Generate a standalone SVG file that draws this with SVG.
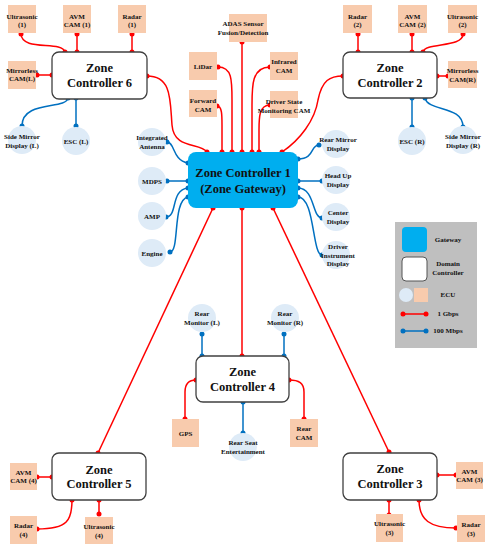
<svg xmlns="http://www.w3.org/2000/svg" width="491" height="550" viewBox="0 0 491 550">
<defs>
<marker id="rd" markerUnits="userSpaceOnUse" markerWidth="6" markerHeight="6" refX="3" refY="3"><circle cx="3" cy="3" r="2.5" fill="#ff0000"/></marker>
<marker id="bd" markerUnits="userSpaceOnUse" markerWidth="6" markerHeight="6" refX="3" refY="3"><circle cx="3" cy="3" r="2.5" fill="#0070c0"/></marker>
<style>
.ecu{fill:#f8cbad}
.cir{fill:#deebf7}
.zc{fill:#fff;stroke:#404040;stroke-width:1.3}
.gw{fill:#00aeef}
text{font-family:"Liberation Serif","Times New Roman",serif;font-weight:bold;text-anchor:middle;fill:#111}
.s{font-size:7px}
.t{font-size:12.5px}
.r{fill:none;stroke:#ff0000;stroke-width:1.5;marker-start:url(#rd);marker-end:url(#rd)}
.b{fill:none;stroke:#0070c0;stroke-width:1.5;marker-start:url(#bd);marker-end:url(#bd)}
</style>
</defs>
<rect width="491" height="550" fill="#fff"/>

<g id="legend">
<rect x="395" y="222" width="82" height="126" fill="#bfbfbf"/>
<rect x="402" y="227" width="25" height="25" rx="4" class="gw"/>
<rect x="402" y="257" width="25" height="24" rx="4" fill="#fff" stroke="#555" stroke-width="1"/>
<circle cx="406" cy="295" r="7" class="cir"/>
<rect x="414" y="288" width="14" height="14" class="ecu"/>
<line x1="403" y1="314" x2="426" y2="314" class="r"/>
<line x1="403" y1="331" x2="426" y2="331" class="b"/>
<text class="s" x="448" y="242">Gateway</text>
<text class="s" x="448" y="266">Domain</text>
<text class="s" x="448" y="275">Controller</text>
<text class="s" x="448" y="297">ECU</text>
<text class="s" x="448" y="316">1 Gbps</text>
<text class="s" x="448" y="333">100 Mbps</text>
</g>

<g id="connectors">
<path class="r" d="M21,34 C22,52 62,40 65,52"/>
<path class="r" d="M77,34 V52"/>
<path class="r" d="M132,34 V52"/>
<path class="r" d="M37,75 H52"/>
<path class="r" d="M147,76 C172,76 170,100 172,125 C174,150 200,142 207,152"/>
<path class="r" d="M242,42 V152"/>
<path class="r" d="M218,67 C232,67 232,80 232,100 V152"/>
<path class="r" d="M217,106 C222,106 222,115 222,125 V152"/>
<path class="r" d="M270,67 C252,67 252,85 252,105 V152"/>
<path class="r" d="M270,105 C259,105 259,118 259,130 V152"/>
<path class="r" d="M282,152 C300,140 315,120 318,100 C322,80 330,76 343,76"/>
<path class="r" d="M358,34 V52"/>
<path class="r" d="M412,34 V52"/>
<path class="r" d="M463,34 C463,48 425,42 423,52"/>
<path class="r" d="M437,76 H448"/>
<path class="r" d="M213,208 L98,453"/>
<path class="r" d="M242,208 V356"/>
<path class="r" d="M273,208 L389,452"/>
<path class="r" d="M185,419 V392 C185,383 190,380 196,380"/>
<path class="r" d="M304,419 V392 C304,383 299,380 289,380"/>
<path class="r" d="M37,477 H52"/>
<path class="r" d="M37,529 C68,529 72,520 72,500"/>
<path class="r" d="M99,500 V514"/>
<path class="r" d="M437,475 H456"/>
<path class="r" d="M389,500 V515"/>
<path class="r" d="M419,500 C419,520 430,528 456,528"/>

<path class="b" d="M68,98 C66,110 22,100 22,126"/>
<path class="b" d="M76,98 V126"/>
<path class="b" d="M167,142 C175,142 172,160 188,163"/>
<path class="b" d="M167,181 H188"/>
<path class="b" d="M166,217 C178,217 170,190 188,188"/>
<path class="b" d="M170,252 C180,252 172,200 188,197"/>
<path class="b" d="M298,159 C315,159 310,145 319,145"/>
<path class="b" d="M298,181 H322"/>
<path class="b" d="M298,188 C315,188 312,218 322,218"/>
<path class="b" d="M298,197 C315,197 312,255 322,255"/>
<path class="b" d="M412,98 V127"/>
<path class="b" d="M425,98 C428,112 463,105 463,127"/>
<path class="b" d="M202,334 V356"/>
<path class="b" d="M284,334 V356"/>
<path class="b" d="M243,402 V433"/>
</g>

<g id="zc6"><rect x="52" y="52" width="95" height="47" rx="7" class="zc"/><text class="t" x="99.5" y="72">Zone</text><text class="t" x="99.5" y="87">Controller 6</text></g>
<g id="zc2"><rect x="343" y="52" width="94" height="46" rx="7" class="zc"/><text class="t" x="390" y="72">Zone</text><text class="t" x="390" y="87">Controller 2</text></g>
<g id="zc1"><rect x="188" y="152" width="110" height="56" rx="8" class="gw"/><text class="t" x="243" y="177">Zone Controller 1</text><text class="t" x="243" y="193">(Zone Gateway)</text></g>
<g id="zc4"><rect x="196" y="356" width="93" height="46" rx="7" class="zc"/><text class="t" x="242.5" y="376">Zone</text><text class="t" x="242.5" y="391">Controller 4</text></g>
<g id="zc5"><rect x="52" y="453" width="94" height="47" rx="7" class="zc"/><text class="t" x="99" y="474">Zone</text><text class="t" x="99" y="488">Controller 5</text></g>
<g id="zc3"><rect x="343" y="453" width="94" height="47" rx="7" class="zc"/><text class="t" x="390" y="473">Zone</text><text class="t" x="390" y="488">Controller 3</text></g>

<g id="ultrasonic1"><rect x="8" y="5" width="28" height="28" class="ecu"/><text class="s" x="22" y="19">Ultrasonic</text><text class="s" x="22" y="27">(1)</text></g>
<g id="avm1"><rect x="63" y="5" width="28" height="28" class="ecu"/><text class="s" x="77" y="19">AVM</text><text class="s" x="77" y="27">CAM (1)</text></g>
<g id="radar1"><rect x="118" y="5" width="28" height="28" class="ecu"/><text class="s" x="132" y="19">Radar</text><text class="s" x="132" y="27">(1)</text></g>
<g id="mirrorL"><rect x="8" y="61" width="28" height="28" class="ecu"/><text class="s" x="22" y="73">Mirrorless</text><text class="s" x="22" y="81">CAM(L)</text></g>
<g id="adas"><rect x="229" y="14" width="38" height="28" class="ecu"/><text class="s" x="243" y="26">ADAS Sensor</text><text class="s" x="243" y="35">Fusion/Detection</text></g>
<g id="lidar"><rect x="189" y="52" width="28" height="28" class="ecu"/><text class="s" x="203" y="69">LiDar</text></g>
<g id="forward"><rect x="189" y="90" width="28" height="27" class="ecu"/><text class="s" x="203" y="103">Forward</text><text class="s" x="203" y="112">CAM</text></g>
<g id="infrared"><rect x="270" y="52" width="28" height="28" class="ecu"/><text class="s" x="284" y="64">Infrared</text><text class="s" x="284" y="73">CAM</text></g>
<g id="dsm"><rect x="270" y="91" width="28" height="27" class="ecu"/><text class="s" x="284" y="104">Driver State</text><text class="s" x="284" y="113">Monitoring CAM</text></g>
<g id="radar2"><rect x="343" y="5" width="29" height="28" class="ecu"/><text class="s" x="357.5" y="19">Radar</text><text class="s" x="357.5" y="27">(2)</text></g>
<g id="avm2"><rect x="398" y="5" width="29" height="28" class="ecu"/><text class="s" x="412.5" y="19">AVM</text><text class="s" x="412.5" y="27">CAM (2)</text></g>
<g id="ultrasonic2"><rect x="448" y="5" width="29" height="28" class="ecu"/><text class="s" x="462.5" y="19">Ultrasonic</text><text class="s" x="462.5" y="27">(2)</text></g>
<g id="mirrorR"><rect x="448" y="61" width="29" height="27" class="ecu"/><text class="s" x="462.5" y="73">Mirrorless</text><text class="s" x="462.5" y="82">CAM(R)</text></g>
<g id="gps"><rect x="172" y="419" width="27" height="28" class="ecu"/><text class="s" x="185.5" y="436">GPS</text></g>
<g id="rearcam"><rect x="290" y="419" width="28" height="28" class="ecu"/><text class="s" x="304" y="431">Rear</text><text class="s" x="304" y="440">CAM</text></g>
<g id="avm4"><rect x="10" y="463" width="27" height="27" class="ecu"/><text class="s" x="23.5" y="475">AVM</text><text class="s" x="23.5" y="483">CAM (4)</text></g>
<g id="radar4"><rect x="10" y="516" width="27" height="28" class="ecu"/><text class="s" x="23.5" y="528">Radar</text><text class="s" x="23.5" y="537">(4)</text></g>
<g id="ultrasonic4"><rect x="85" y="517" width="28" height="27" class="ecu"/><text class="s" x="99" y="529">Ultrasonic</text><text class="s" x="99" y="538">(4)</text></g>
<g id="avm3"><rect x="456" y="462" width="27" height="27" class="ecu"/><text class="s" x="469.5" y="474">AVM</text><text class="s" x="469.5" y="482">CAM (3)</text></g>
<g id="ultrasonic3"><rect x="376" y="514" width="27" height="28" class="ecu"/><text class="s" x="389.5" y="526">Ultrasonic</text><text class="s" x="389.5" y="535">(3)</text></g>
<g id="radar3"><rect x="457" y="515" width="28" height="27" class="ecu"/><text class="s" x="471" y="527">Radar</text><text class="s" x="471" y="536">(3)</text></g>

<g id="smdL"><circle cx="22" cy="140" r="14" class="cir"/><text class="s" x="22" y="139">Side Mirror</text><text class="s" x="22" y="148">Display (L)</text></g>
<g id="escL"><circle cx="76" cy="141" r="14" class="cir"/><text class="s" x="76" y="144">ESC (L)</text></g>
<g id="antenna"><circle cx="152" cy="142" r="14" class="cir"/><text class="s" x="152" y="140">Integrated</text><text class="s" x="152" y="149">Antenna</text></g>
<g id="mdps"><circle cx="152" cy="181" r="14" class="cir"/><text class="s" x="152" y="183.5">MDPS</text></g>
<g id="amp"><circle cx="152" cy="216" r="14" class="cir"/><text class="s" x="152" y="218.5">AMP</text></g>
<g id="engine"><circle cx="152" cy="253" r="14" class="cir"/><text class="s" x="152" y="255.5">Engine</text></g>
<g id="rearmirror"><circle cx="336" cy="144" r="14" class="cir"/><text class="s" x="338" y="142">Rear Mirror</text><text class="s" x="338" y="151">Display</text></g>
<g id="hud"><circle cx="336" cy="180" r="14" class="cir"/><text class="s" x="338" y="178">Head Up</text><text class="s" x="338" y="187">Display</text></g>
<g id="center"><circle cx="336" cy="217" r="14" class="cir"/><text class="s" x="338" y="215">Center</text><text class="s" x="338" y="224">Display</text></g>
<g id="driverinst"><circle cx="336" cy="255" r="14" class="cir"/><text class="s" x="338" y="249">Driver</text><text class="s" x="338" y="257.5">Instrument</text><text class="s" x="338" y="266">Display</text></g>
<g id="escR"><circle cx="412" cy="141" r="14" class="cir"/><text class="s" x="412" y="144">ESC (R)</text></g>
<g id="smdR"><circle cx="463" cy="140" r="14" class="cir"/><text class="s" x="463" y="139">Side Mirror</text><text class="s" x="463" y="148">Display (R)</text></g>
<g id="rmL"><circle cx="202" cy="318" r="14" class="cir"/><text class="s" x="202" y="316">Rear</text><text class="s" x="202" y="325">Monitor (L)</text></g>
<g id="rmR"><circle cx="285" cy="318" r="14" class="cir"/><text class="s" x="285" y="316">Rear</text><text class="s" x="285" y="325">Monitor (R)</text></g>
<g id="rse"><circle cx="243" cy="447" r="14" class="cir"/><text class="s" x="243" y="445">Rear Seat</text><text class="s" x="243" y="454">Entertainment</text></g>
</svg>
